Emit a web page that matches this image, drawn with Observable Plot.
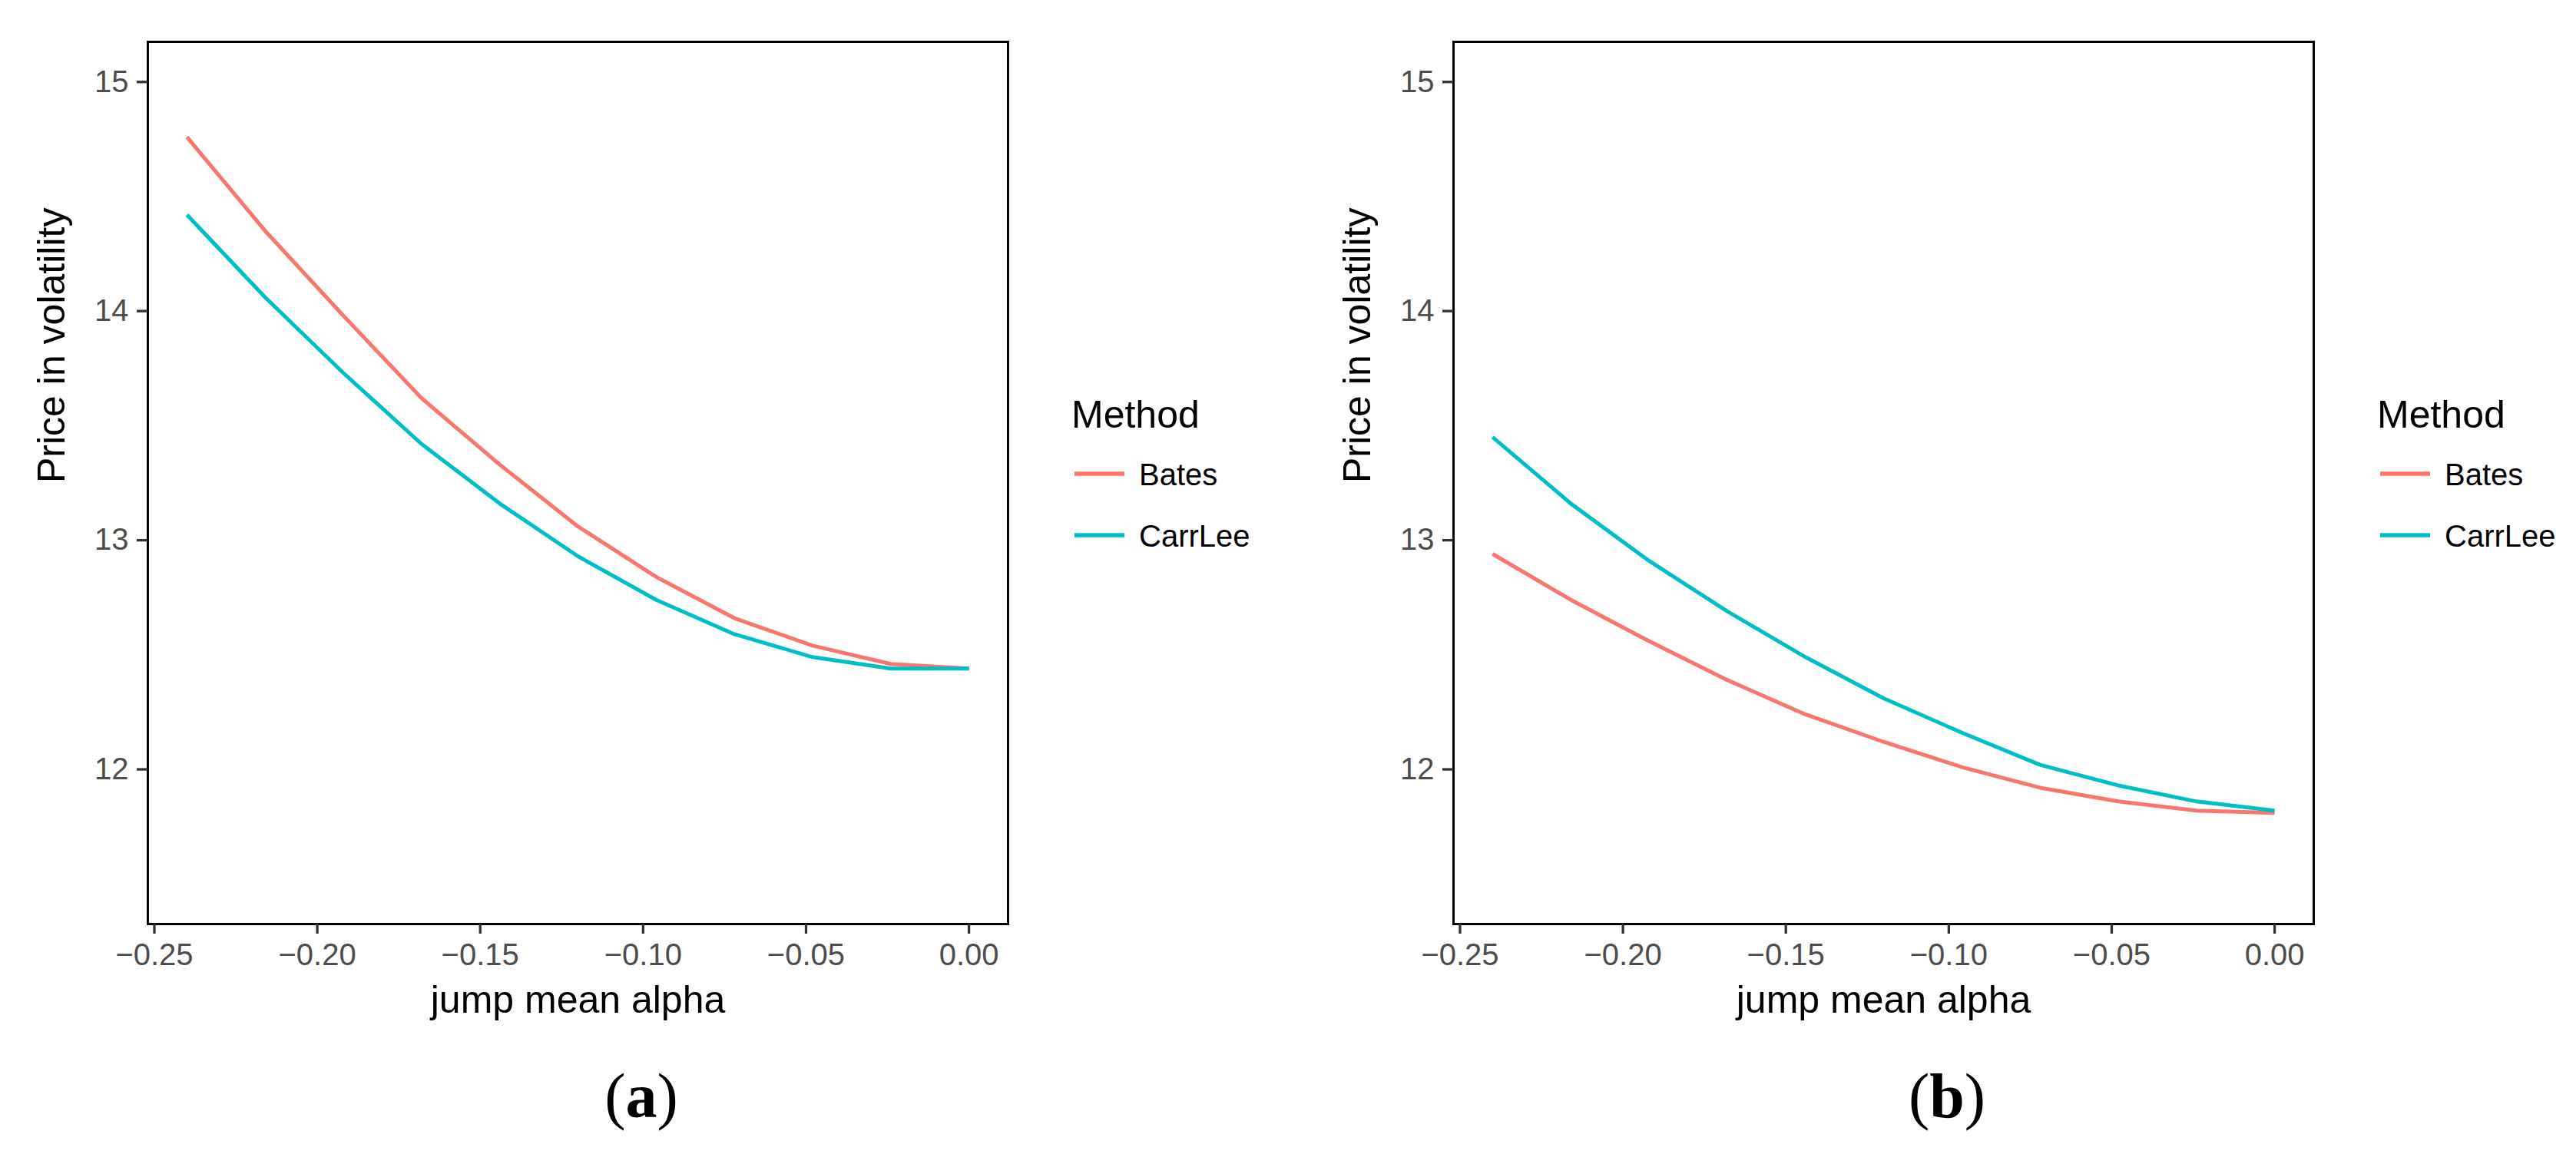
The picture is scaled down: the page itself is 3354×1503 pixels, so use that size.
<!DOCTYPE html>
<html>
<head>
<meta charset="utf-8">
<script src="https://cdn.jsdelivr.net/npm/d3@7"></script>
<script src="https://cdn.jsdelivr.net/npm/@observablehq/plot@0.6"></script>
<style>
  body { margin: 0; background: #ffffff; }
  #root { position: relative; width: 3354px; height: 1503px; overflow: hidden; background: #ffffff;
          font-family: "Liberation Sans", Arial, Helvetica, sans-serif; }
  .panel { position: absolute; top: 0; }
  #overlay { position: absolute; left: 0; top: 0; pointer-events: none; }
</style>
</head>
<body>
<div id="root"></div>
<script>
// ---- data ----
const alpha = [-0.24, -0.216, -0.192, -0.168, -0.144, -0.12, -0.096, -0.072, -0.048, -0.024, 0];
const methods = ["Bates", "CarrLee"];
const colors = ["#F8766D", "#00BFC4"];
// panel (a)
const batesA   = [14.76, 14.35, 13.98, 13.62, 13.33, 13.06, 12.84, 12.66, 12.54, 12.46, 12.44];
const carrLeeA = [14.42, 14.06, 13.73, 13.42, 13.16, 12.93, 12.74, 12.59, 12.49, 12.44, 12.44];
// panel (b)
const batesB   = [12.94, 12.74, 12.56, 12.39, 12.24, 12.12, 12.01, 11.92, 11.86, 11.82, 11.81];
const carrLeeB = [13.45, 13.16, 12.91, 12.69, 12.49, 12.31, 12.16, 12.02, 11.93, 11.86, 11.82];
// axes
const xTicks = [-0.25, -0.20, -0.15, -0.10, -0.05, 0.00];
const yTicks = [12, 13, 14, 15];
const xDomain = [-0.252, 0.012];
const yDomain = [11.325, 15.175];
const xLabel = "jump mean alpha";
const yLabel = "Price in volatility";
const legendTitle = "Method";
const captions = ["a", "b"];

const FONT = '"Liberation Sans", Arial, Helvetica, sans-serif';

function makePanel(bates, carrLee) {
  const rows = [];
  alpha.forEach((a, i) => {
    rows.push({alpha: a, price: bates[i], method: methods[0]});
    rows.push({alpha: a, price: carrLee[i], method: methods[1]});
  });
  return Plot.plot({
    width: 1340,
    height: 1340,
    marginLeft: 192,
    marginRight: 28,
    marginTop: 54,
    marginBottom: 137,
    style: {fontFamily: FONT, background: "transparent", color: "black", overflow: "visible"},
    x: {domain: xDomain},
    y: {domain: yDomain},
    color: {domain: methods, range: colors},
    marks: [
      Plot.line(rows, {x: "alpha", y: "price", stroke: "method", z: "method",
                       strokeWidth: 5, strokeLinecap: "butt", strokeLinejoin: "round"}),
      Plot.frame({stroke: "black", strokeWidth: 3}),
      Plot.axisX({ticks: xTicks, tickFormat: d3.format(".2f"), tickSize: 13, tickPadding: 12,
                  stroke: "#333333", strokeWidth: 3.3, fill: "#4D4D4D", fontSize: 40, label: null}),
      Plot.axisY({ticks: yTicks, tickFormat: d3.format("d"), tickSize: 14, tickPadding: 11,
                  stroke: "#333333", strokeWidth: 3.3, fill: "#4D4D4D", fontSize: 40, label: null}),
      Plot.text([xLabel], {frameAnchor: "bottom", text: d => d, dy: 115, lineAnchor: "bottom",
                           fontSize: 50, fill: "black"}),
      Plot.text([yLabel], {frameAnchor: "left", text: d => d, rotate: -90, dx: -144, lineAnchor: "top",
                           fontSize: 50, fill: "black"})
    ]
  });
}

const root = document.getElementById("root");
const panels = [[batesA, carrLeeA, 0], [batesB, carrLeeB, 1700]];
panels.forEach(([b, c, left]) => {
  const div = document.createElement("div");
  div.className = "panel";
  div.style.left = left + "px";
  div.appendChild(makePanel(b, c));
  root.appendChild(div);
});

// ---- legends and sub-captions ----
const overlay = d3.select(root).append("svg")
  .attr("id", "overlay")
  .attr("width", 3354).attr("height", 1503);

panels.forEach(([b, c, left], p) => {
  const g = overlay.append("g").attr("transform", `translate(${left},0)`);
  g.append("text").attr("x", 1395).attr("y", 557)
    .attr("font-family", FONT).attr("font-size", 50).attr("fill", "black")
    .text(legendTitle);
  methods.forEach((m, i) => {
    const y = 617 + i * 80;
    g.append("line").attr("x1", 1399).attr("x2", 1464).attr("y1", y).attr("y2", y)
      .attr("stroke", colors[i]).attr("stroke-width", 5.5);
    g.append("text").attr("x", 1483).attr("y", y + 15)
      .attr("font-family", FONT).attr("font-size", 40).attr("fill", "black")
      .text(m);
  });
  const cap = g.append("text").attr("x", 835).attr("y", 1455)
    .attr("text-anchor", "middle")
    .attr("font-family", '"Liberation Serif", "Times New Roman", serif')
    .attr("font-size", 82).attr("fill", "black");
  cap.append("tspan").text("(");
  cap.append("tspan").attr("font-weight", "bold").text(captions[p]);
  cap.append("tspan").text(")");
});
</script>
</body>
</html>
